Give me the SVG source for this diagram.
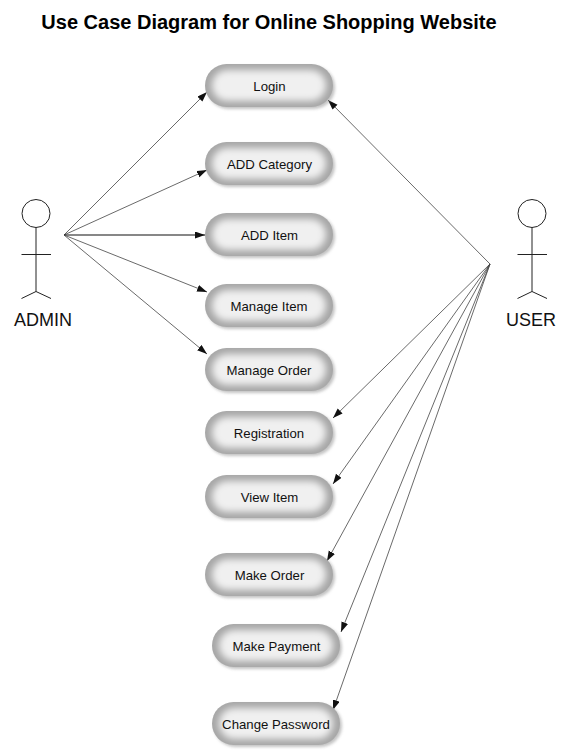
<svg xmlns="http://www.w3.org/2000/svg" width="567" height="751" viewBox="0 0 567 751">
<style>
text{font-family:"Liberation Sans",Arial,sans-serif;fill:#111}
.uc{font-size:13.200px;text-anchor:middle}
.actor{font-size:18px;text-anchor:middle}
.fig{fill:none;stroke:#222;stroke-width:1}
.c{stroke:#444;stroke-width:.8;fill:none;marker-end:url(#arrow)}
</style>
<defs>
<marker id="arrow" markerUnits="userSpaceOnUse" markerWidth="11" markerHeight="8" refX="10" refY="3.500" orient="auto"><path d="M0 0L10 3.500L0 7Z" fill="#111"/></marker>
<clipPath id="pc"><rect width="128" height="43" rx="21.5"/></clipPath>
<filter id="b" x="-30%" y="-60%" width="160%" height="220%"><feGaussianBlur stdDeviation="3.5"/></filter>
<filter id="s" x="-20%" y="-40%" width="140%" height="180%"><feGaussianBlur stdDeviation="1.5"/></filter>
<g id="pill">
<rect x="2" y="2" width="128" height="43" rx="21.5" fill="#888" opacity=".5" filter="url(#s)"/>
<g clip-path="url(#pc)"><rect width="128" height="43" fill="#a6a6a6"/><rect x="7" y="6" width="114" height="31" rx="15.5" fill="#f0f0f0" filter="url(#b)"/></g>
</g>
<g id="stick" class="fig"><circle cx="0" cy="0" r="14"/><path d="M0 14V78M-14.500 41H15M-14.500 85L0 78L15 85"/></g>
</defs>
<text x="269" y="29" font-size="20px" font-weight="bold" text-anchor="middle" style="fill:#000">Use Case Diagram for Online Shopping Website</text>
<g id="connectors">
<path class="c" d="M64 235L207 92"/>
<path class="c" d="M64 235L207 170"/>
<path class="c" d="M64 235L205 235" style="stroke-width:1.200;stroke:#111"/>
<path class="c" d="M64 235L207 292"/>
<path class="c" d="M64 235L207 354"/>
<path class="c" d="M490 264L328 100"/>
<path class="c" d="M490 264L333 418"/>
<path class="c" d="M490 264L333 484"/>
<path class="c" d="M490 264L327 561"/>
<path class="c" d="M490 264L341 632"/>
<path class="c" d="M490 264L333 710"/>
</g>
<g id="admin"><use href="#stick" x="36" y="213.500"/><text class="actor" x="43" y="326">ADMIN</text></g>
<g id="user"><use href="#stick" x="532" y="213.500"/><text class="actor" x="531" y="326">USER</text></g>
<g id="login"><use href="#pill" x="205" y="64"/><text class="uc" x="269.500" y="91">Login</text></g>
<g id="add-category"><use href="#pill" x="205" y="142"/><text class="uc" x="269.500" y="169">ADD Category</text></g>
<g id="add-item"><use href="#pill" x="205" y="213"/><text class="uc" x="269.500" y="240">ADD Item</text></g>
<g id="manage-item"><use href="#pill" x="205" y="284"/><text class="uc" x="269" y="311">Manage Item</text></g>
<g id="manage-order"><use href="#pill" x="205" y="348"/><text class="uc" x="269" y="375">Manage Order</text></g>
<g id="registration"><use href="#pill" x="205" y="411"/><text class="uc" x="269" y="438">Registration</text></g>
<g id="view-item"><use href="#pill" x="205" y="475"/><text class="uc" x="269.500" y="502">View Item</text></g>
<g id="make-order"><use href="#pill" x="205" y="553"/><text class="uc" x="269.500" y="580">Make Order</text></g>
<g id="make-payment"><use href="#pill" x="212" y="624"/><text class="uc" x="276.500" y="651">Make Payment</text></g>
<g id="change-password"><use href="#pill" x="212" y="702"/><text class="uc" x="276" y="729">Change Password</text></g>
</svg>
